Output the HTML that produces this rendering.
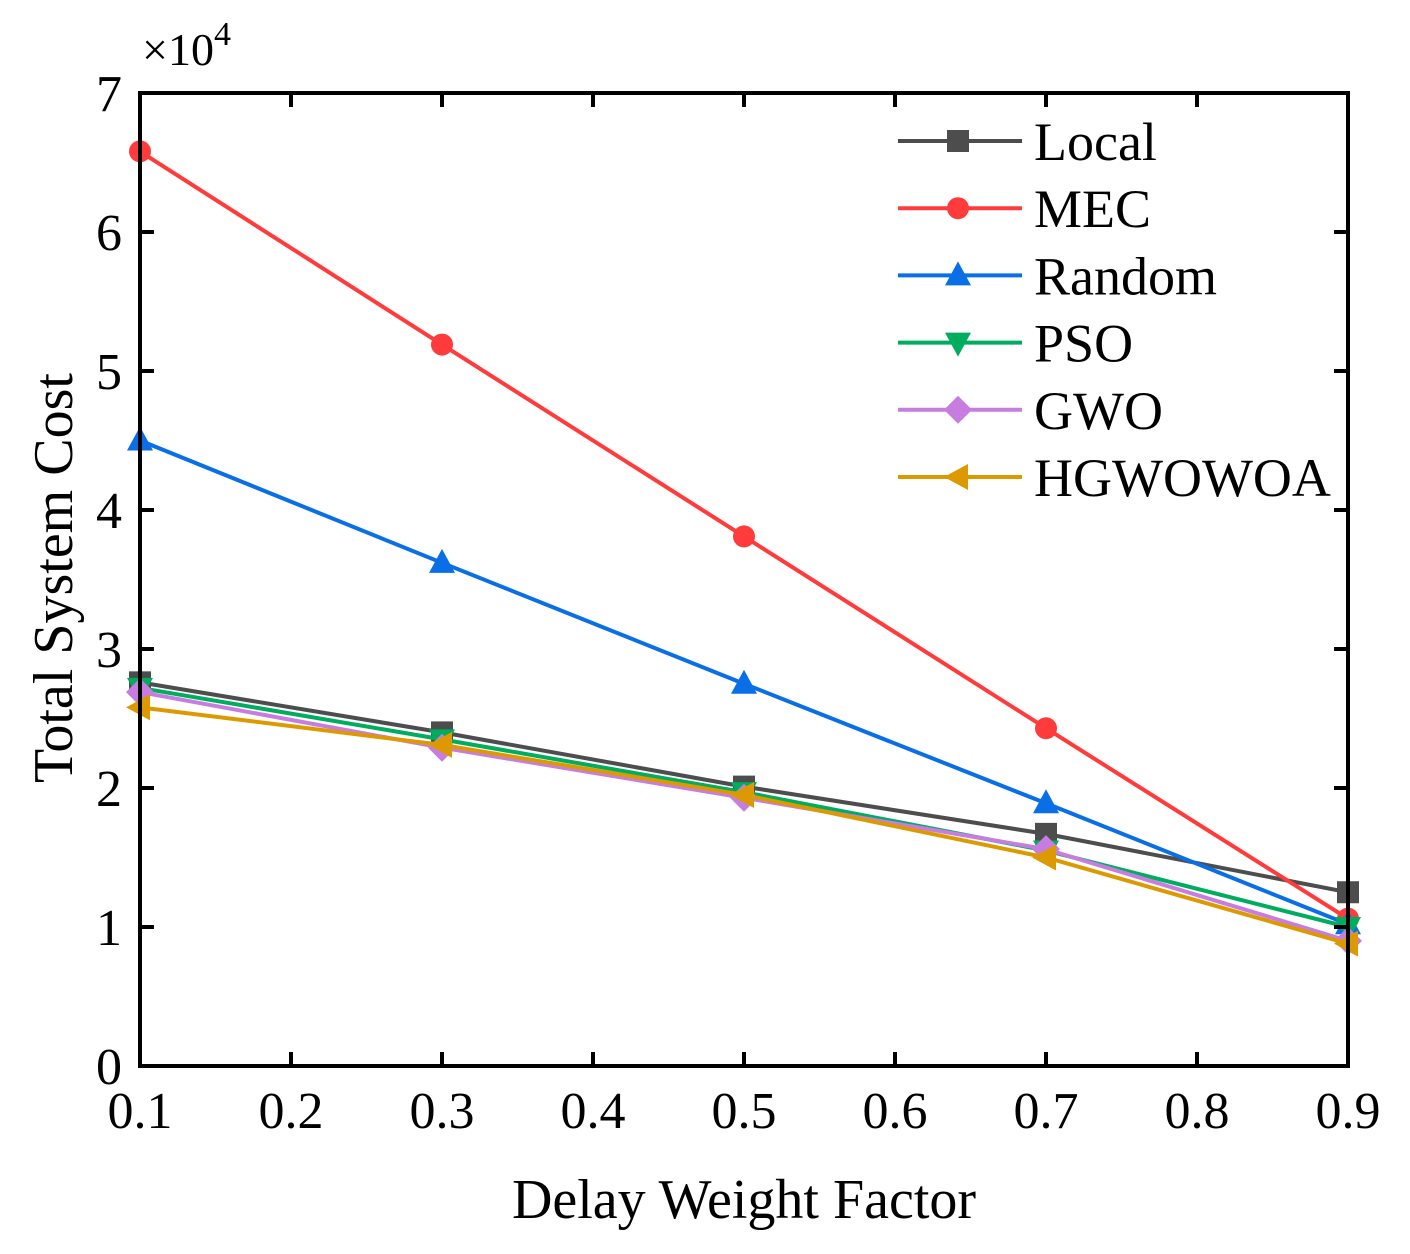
<!DOCTYPE html>
<html><head><meta charset="utf-8"><style>
html,body{margin:0;padding:0;background:#fff;}
svg{display:block;font-family:"Liberation Serif",serif;}
</style></head><body>
<svg id="chart" width="1410" height="1254" viewBox="0 0 1410 1254" xmlns="http://www.w3.org/2000/svg"></svg>
<script>
const categories=[0.1,0.3,0.5,0.7,0.9];
const localVals=[2.76,2.40,2.01,1.67,1.25];
const mecVals=[6.58,5.19,3.81,2.43,1.06];
const randomVals=[4.50,3.62,2.75,1.89,1.02];
const psoVals=[2.72,2.35,1.97,1.55,1.00];
const gwoVals=[2.69,2.29,1.93,1.56,0.90];
const hgwowoaVals=[2.58,2.31,1.95,1.50,0.88];
const seriesNames=["Local","MEC","Random","PSO","GWO","HGWOWOA"];
const xTicks=[0.1,0.2,0.3,0.4,0.5,0.6,0.7,0.8,0.9];
const xTickLabels=["0.1","0.2","0.3","0.4","0.5","0.6","0.7","0.8","0.9"];
const yTicks=[0,1,2,3,4,5,6,7];
const yTickLabels=["0","1","2","3","4","5","6","7"];

const L=140,R=1348,T=93,B=1066;
const xs=v=>L+(v-0.1)/0.8*(R-L);
const ys=v=>B-v/7*(B-T);
const NS="http://www.w3.org/2000/svg";
const svg=document.getElementById('chart');
function mk(tag,attrs,parent){const e=document.createElementNS(NS,tag);for(const k in attrs)e.setAttribute(k,attrs[k]);(parent||svg).appendChild(e);return e;}

const series=[
 {vals:localVals,color:"#4d4d4d",m:"square"},
 {vals:mecVals,color:"#ff3b3b",m:"circle"},
 {vals:randomVals,color:"#0a6fe6",m:"up"},
 {vals:psoVals,color:"#00ad5f",m:"down"},
 {vals:gwoVals,color:"#c77ddf",m:"diamond"},
 {vals:hgwowoaVals,color:"#dd9a00",m:"left"}
];
function marker(g,type,x,y,c){
 const s=11;
 if(type==="square")return mk('rect',{x:x-s,y:y-s,width:2*s,height:2*s,fill:c},g);
 if(type==="circle")return mk('circle',{cx:x,cy:y,r:s,fill:c},g);
 let p;
 if(type==="up")p=[[x,y-14],[x+13,y+10],[x-13,y+10]];
 if(type==="down")p=[[x,y+14],[x+13,y-10],[x-13,y-10]];
 if(type==="diamond")p=[[x,y-14],[x+14,y],[x,y+14],[x-14,y]];
 if(type==="left")p=[[x-14,y],[x+10,y-13],[x+10,y+13]];
 return mk('polygon',{points:p.map(q=>q.join(',')).join(' '),fill:c},g);
}

series.forEach((s,i)=>{
 const g=mk('g',{});
 
 
 const pl=mk('polyline',{points:s.vals.map((v,j)=>xs(categories[j])+','+ys(v)).join(' '),fill:'none',stroke:s.color,'stroke-width':4},g);
 
 
 s.vals.forEach((v,j)=>{
  const m=marker(g,s.m,xs(categories[j]),ys(v),s.color);
  
  
 });
});

const frame=mk('rect',{x:L,y:T,width:R-L,height:B-T,fill:'none',stroke:'#000','stroke-width':4});


xTicks.forEach((v,i)=>{
 const x=xs(v);
 mk('line',{x1:x,y1:B,x2:x,y2:B-14,stroke:'#000','stroke-width':4});
 mk('line',{x1:x,y1:T,x2:x,y2:T+14,stroke:'#000','stroke-width':4});
 const t=mk('text',{x:x,y:1128,'font-size':52,'text-anchor':'middle'});
 t.textContent=xTickLabels[i];
 
 
});
yTicks.forEach((v,i)=>{
 const y=ys(v);
 mk('line',{x1:L,y1:y,x2:L+14,y2:y,stroke:'#000','stroke-width':4});
 mk('line',{x1:R,y1:y,x2:R-14,y2:y,stroke:'#000','stroke-width':4});
 const t=mk('text',{x:122,y:y+18,'font-size':52,'text-anchor':'end'});
 t.textContent=yTickLabels[i];
 
 
});
const ex=mk('text',{x:142,y:65,'font-size':46});
ex.innerHTML='×10<tspan dy="-20" font-size="34">4</tspan>';


const xt=mk('text',{x:744,y:1218,'font-size':56,'text-anchor':'middle'});
xt.textContent='Delay Weight Factor';


const yt=mk('text',{x:0,y:0,'font-size':56,'text-anchor':'middle',transform:'translate(72,578) rotate(-90)'});
yt.textContent='Total System Cost';



const lg=mk('g',{});


series.forEach((s,i)=>{
 const y=141+i*67.2;
 const e=mk('g',{},lg);
 
 
 mk('line',{x1:898,y1:y,x2:1022,y2:y,stroke:s.color,'stroke-width':4},e);
 marker(e,s.m,958,y,s.color);
 const t=mk('text',{x:1034,y:y+19,'font-size':54},e);
 t.textContent=seriesNames[i];
});
</script>
</body></html>
